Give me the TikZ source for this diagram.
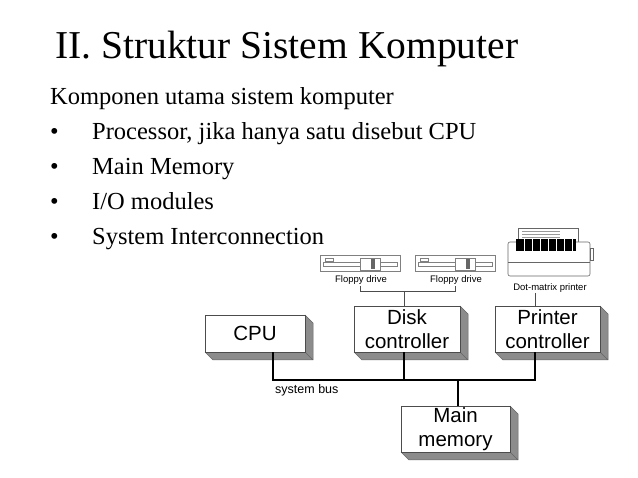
\documentclass[tikz,border=0pt]{standalone}
\usepackage{fontspec}
\setmainfont{Liberation Serif}
\newfontfamily\arialf{Liberation Sans}
\begin{document}
\begin{tikzpicture}[x=1pt,y=-1pt,
  box/.style={draw=black!70, fill=white, line width=0.6pt, inner sep=0pt,
    font=\arialf\fontsize{20.5}{24}\selectfont, align=center},
  small/.style={font=\arialf\fontsize{9.5}{11}\selectfont, inner sep=0pt},
  bus/.style={line width=2pt},
  thin/.style={line width=0.6pt, draw=black!70}]
\useasboundingbox (0,0) rectangle (638,478);
\node[anchor=base west, font=\fontsize{39.5}{44}\selectfont, inner sep=0pt] (title) at (55,59) {II. Struktur Sistem Komputer};
\node[anchor=base west, font=\fontsize{24.5}{28}\selectfont, inner sep=0pt] (sub) at (50,105) {Komponen utama sistem komputer};
\foreach \t [count=\i] in {{Processor, jika hanya satu disebut CPU},{Main Memory},{I/O modules},{System Interconnection}}{
  \node[anchor=base west, font=\fontsize{24.5}{28}\selectfont, inner sep=0pt] (b\i) at (50,105+35*\i) {\textbullet};
  \node[anchor=base west, font=\fontsize{24.5}{28}\selectfont, inner sep=0pt] (t\i) at (92,105+35*\i) {\t};
}
% 3D boxes
\newcommand\boxsh[4]{% x1 y1 x2 y2
  \fill[black!45] (#1,#4) -- (#1+8,#4+8) -- (#3+8,#4+8) -- (#3+8,#2+8) -- (#3,#2) -- cycle;
  \draw[black!60, line width=0.5pt] (#3,#4) -- (#3+8,#4+8) (#1,#4) -- (#1+8,#4+8) -- (#3+8,#4+8) -- (#3+8,#2+8) -- (#3,#2);}
\boxsh{205}{315}{305}{352}
\boxsh{354}{306}{460}{352}
\boxsh{495}{306}{600}{352}
\boxsh{401}{406}{510}{452}
\node[box, minimum width=100pt, minimum height=37pt] (cpu) at (255,333.5) {CPU};
\node[box, minimum width=106pt, minimum height=46pt] (disk) at (407,329) {Disk\\controller};
\node[box, minimum width=105pt, minimum height=46pt] (prn) at (547.5,329) {Printer\\controller};
\node[box, minimum width=109pt, minimum height=46pt] (mem) at (455.5,429) {Main\\memory};
% bus
\coordinate (bl) at (273,380);
\coordinate (br) at (535,380);
\draw[bus] (cpu.south -| bl) -- (bl) -- (br) -- (prn.south -| br);
\draw[bus] (disk.south -| 404,0) -- (404,380);
\draw[bus] (458,380) -- (mem.north -| 458,0);
\node[small, font=\arialf\fontsize{12.5}{14}\selectfont, anchor=west] (sb) at (275,390) {system bus};
% floppy drives
\foreach \n/\x in {f1/320,f2/415}{
  \draw[black!50, line width=0.5pt] (\x,255) rectangle (\x+80,271);
  \draw[black!50, line width=0.4pt] (\x+3,262) rectangle (\x+77,266);
  \draw[black!50, line width=0.4pt] (\x+5,258) rectangle (\x+13,261);
  \draw[black!50, line width=0.4pt, fill=white] (\x+40,258) rectangle (\x+60,270);
  \fill[black!60] (\x+51,259) rectangle (\x+55,269);
  \node[small] (\n) at (\x+41,280) {Floppy drive};
}
\coordinate (fa) at (360,286);
\coordinate (fb) at (455,286);
\draw[thin] (fa) -- (360,291) -- (455,291) -- (fb);
\draw[thin] (404,291) -- (disk.north -| 404,0);
% printer
\draw[black!60, line width=0.5pt, fill=white] (518,228) rectangle (578,242);
\foreach \yy in {231,234,237} \draw[black!40, line width=0.3pt] (522,\yy) -- (560,\yy);
\draw[black!60, line width=0.6pt, fill=white, rounded corners=2pt] (508,242) rectangle (590,276);
\draw[black!60, line width=0.4pt] (508,262) -- (590,262);
\draw[black!60, line width=0.5pt] (590,248) rectangle (593,260);
\fill[black] (516,239) rectangle (576,251);
\foreach \xx in {524,532,...,572} \draw[white, line width=0.4pt] (\xx,239) -- (\xx,251);
\node[small] (pl) at (550,288) {Dot-matrix printer};
\draw[thin] (535,293) -- (prn.north -| 535,0);
\end{tikzpicture}
\end{document}
